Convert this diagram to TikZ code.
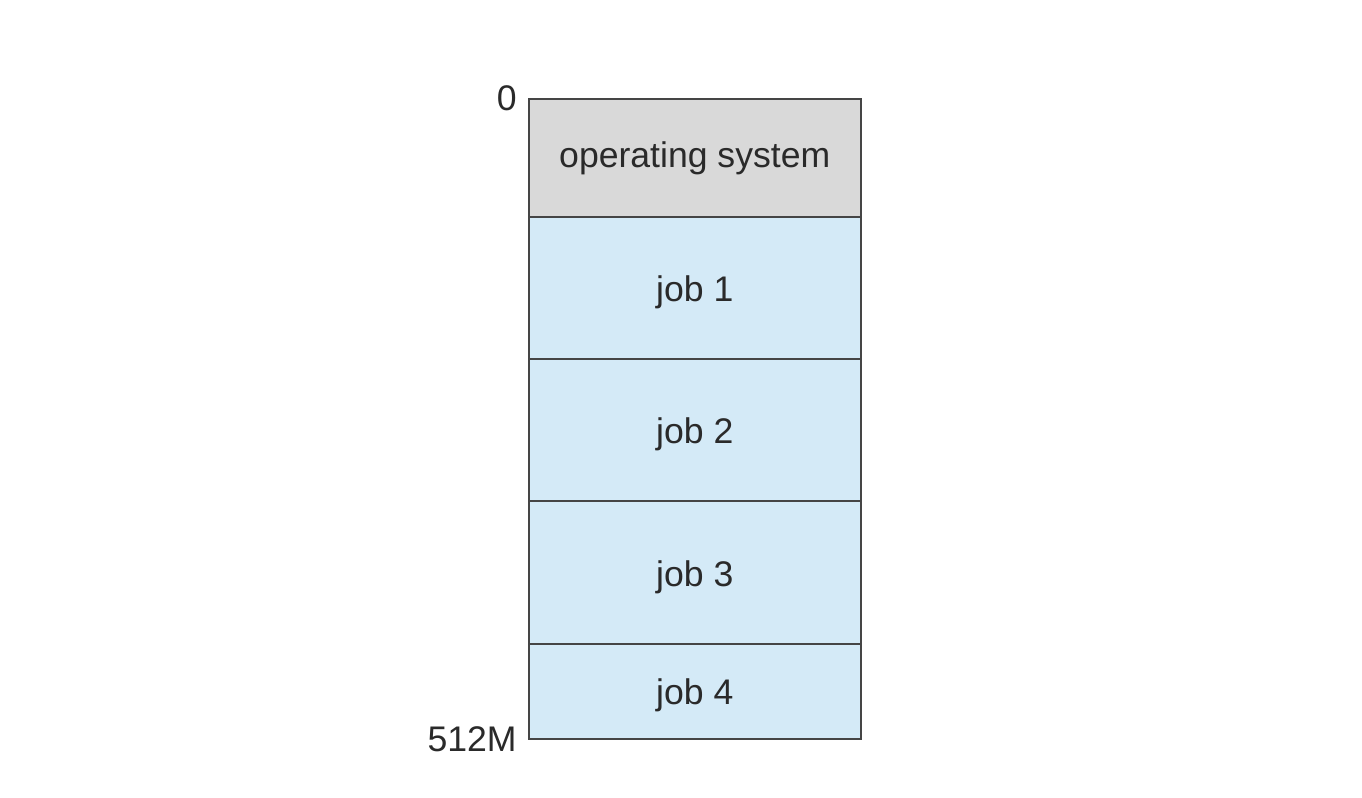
\documentclass[tikz,border=0pt]{standalone}
\usepackage{fontspec}
\setmainfont{Liberation Sans}
\definecolor{osgray}{HTML}{D9D9D9}
\definecolor{jobblue}{HTML}{D4EAF7}
\definecolor{edge}{HTML}{454545}
\definecolor{txt}{HTML}{2A2A2A}
\begin{document}
\begin{tikzpicture}[x=0.5pt,y=-0.5pt,
  seg/.style={draw=edge,line width=0.75pt,minimum width=166pt,inner sep=0pt,anchor=north west},
  segtext/.style={text=txt,font=\fontsize{17.8}{20}\selectfont,inner sep=0pt},
  lbl/.style={text=txt,font=\fontsize{17.8}{20}\selectfont,inner sep=0pt,anchor=east}]
\useasboundingbox (0,0) rectangle (1362,798);
\fill[white] (0,0) rectangle (1362,798);
\node[seg,fill=osgray,minimum height=59pt,label={[segtext,yshift=-0.5pt]center:operating system}] (os) at (528,98) {};
\node[seg,fill=jobblue,minimum height=71pt,label={[segtext,yshift=-2.5pt]center:job 1}] (j1) at (528,216) {};
\node[seg,fill=jobblue,minimum height=71pt,label={[segtext,yshift=-2.5pt]center:job 2}] (j2) at (528,358) {};
\node[seg,fill=jobblue,minimum height=71.5pt,label={[segtext,yshift=-2.5pt]center:job 3}] (j3) at (528,500) {};
\node[seg,fill=jobblue,minimum height=47.5pt,label={[segtext,yshift=-2pt]center:job 4}] (j4) at (528,643) {};
\node[lbl] (zero) at (517,98.5) {0};
\node[lbl] (end) at (517,739.5) {512M};
\end{tikzpicture}
\end{document}
